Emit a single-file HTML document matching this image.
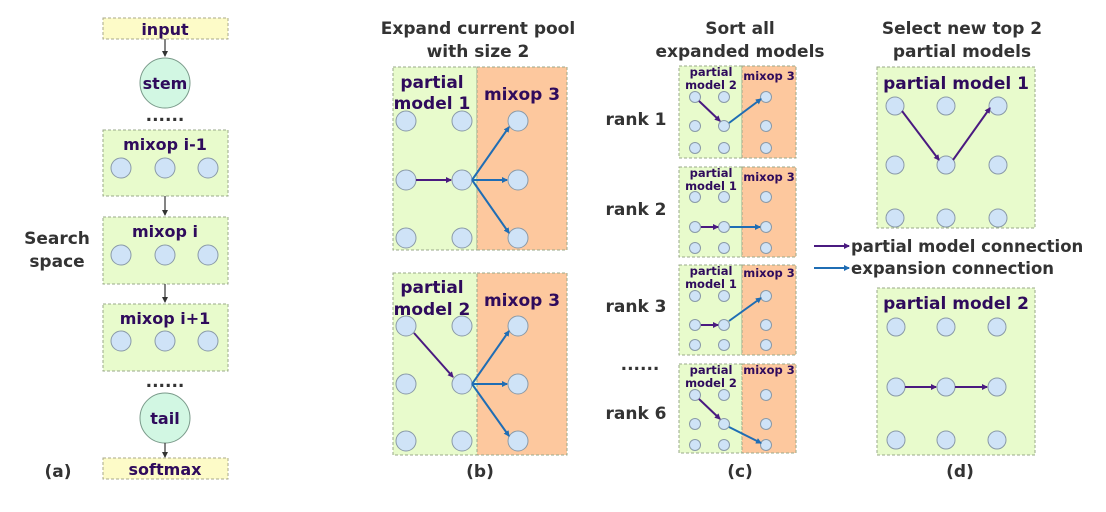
<!DOCTYPE html>
<html><head><meta charset="utf-8"><style>
html,body{margin:0;padding:0;background:#fff;}
svg{display:block;}
text{font-family:"DejaVu Sans","Liberation Sans",sans-serif;font-weight:bold;}
.t{fill:#333;font-size:17px;}
.p{fill:#2f0b5c;}
.g{fill:#e8fbcc;stroke:#9aa98a;stroke-dasharray:3,2;stroke-width:1;}
.o{fill:#fdc89e;stroke:#9aa98a;stroke-dasharray:3,2;stroke-width:1;}
.y{fill:#fdfbc8;stroke:#a9a98a;stroke-dasharray:3,2;stroke-width:1;}
.c{fill:#cfe3f7;stroke:#8a9aa8;stroke-width:1;}
.tc{fill:#d2f7e3;stroke:#7a9a8a;stroke-width:1;}
.pl{stroke:#4a1a80;stroke-width:2;fill:none;marker-end:url(#ap);}
.bl{stroke:#1f6db4;stroke-width:2;fill:none;marker-end:url(#ab);}
.k{stroke:#333;stroke-width:1.2;marker-end:url(#ak);}
</style></head><body>
<svg width="1106" height="512" viewBox="0 0 1106 512" xmlns="http://www.w3.org/2000/svg">
<defs>
<marker id="ap" markerWidth="6" markerHeight="6" refX="5" refY="3" orient="auto" markerUnits="userSpaceOnUse"><path d="M0,0L6,3L0,6z" fill="#4a1a80"/></marker>
<marker id="ab" markerWidth="6" markerHeight="6" refX="5" refY="3" orient="auto" markerUnits="userSpaceOnUse"><path d="M0,0L6,3L0,6z" fill="#1f6db4"/></marker>
<marker id="ak" markerWidth="6" markerHeight="6" refX="5" refY="3" orient="auto" markerUnits="userSpaceOnUse"><path d="M0,0L6,3L0,6z" fill="#333"/></marker>
</defs>

<!-- (a) -->
<rect class="y" x="103" y="18" width="125" height="21"/>
<text class="p" x="165" y="35" font-size="16" text-anchor="middle">input</text>
<line class="k" x1="165" y1="39" x2="165" y2="56"/>
<circle class="tc" cx="165" cy="83" r="25"/>
<text class="p" x="165" y="89" font-size="16" text-anchor="middle">stem</text>
<text class="t" x="165" y="121" font-size="12" text-anchor="middle">......</text>
<rect class="g" x="103" y="130" width="125" height="66"/>
<text class="p" x="165" y="150" font-size="16" text-anchor="middle">mixop i-1</text>
<circle class="c" cx="121" cy="168" r="10"/><circle class="c" cx="165" cy="168" r="10"/><circle class="c" cx="208" cy="168" r="10"/>
<line class="k" x1="165" y1="196" x2="165" y2="215"/>
<rect class="g" x="103" y="217" width="125" height="67"/>
<text class="p" x="165" y="237" font-size="16" text-anchor="middle">mixop i</text>
<circle class="c" cx="121" cy="255" r="10"/><circle class="c" cx="165" cy="255" r="10"/><circle class="c" cx="208" cy="255" r="10"/>
<line class="k" x1="165" y1="284" x2="165" y2="302"/>
<rect class="g" x="103" y="304" width="125" height="67"/>
<text class="p" x="165" y="324" font-size="16" text-anchor="middle">mixop i+1</text>
<circle class="c" cx="121" cy="341" r="10"/><circle class="c" cx="165" cy="341" r="10"/><circle class="c" cx="208" cy="341" r="10"/>
<text class="t" x="165" y="387" font-size="12" text-anchor="middle">......</text>
<circle class="tc" cx="165" cy="418" r="25"/>
<text class="p" x="165" y="424" font-size="16" text-anchor="middle">tail</text>
<line class="k" x1="165" y1="443" x2="165" y2="457"/>
<rect class="y" x="103" y="458" width="125" height="21"/>
<text class="p" x="165" y="475" font-size="16" text-anchor="middle">softmax</text>
<text class="t" x="58" y="477" text-anchor="middle">(a)</text>
<text class="t" x="57" y="244" text-anchor="middle">Search</text>
<text class="t" x="57" y="267" text-anchor="middle">space</text>

<!-- (b) -->
<text class="t" x="478" y="34" text-anchor="middle">Expand current pool</text>
<text class="t" x="478" y="57" text-anchor="middle">with size 2</text>
<rect class="g" x="393" y="67" width="84" height="183"/>
<rect class="o" x="477" y="67" width="90" height="183"/>
<text class="p" x="432" y="88" font-size="17" text-anchor="middle">partial</text>
<text class="p" x="432" y="109" font-size="17" text-anchor="middle">model 1</text>
<text class="p" x="522" y="100" font-size="17" text-anchor="middle">mixop 3</text>
<circle class="c" cx="406" cy="121" r="10"/><circle class="c" cx="462" cy="121" r="10"/><circle class="c" cx="518" cy="121" r="10"/>
<circle class="c" cx="406" cy="180" r="10"/><circle class="c" cx="462" cy="180" r="10"/><circle class="c" cx="518" cy="180" r="10"/>
<circle class="c" cx="406" cy="238" r="10"/><circle class="c" cx="462" cy="238" r="10"/><circle class="c" cx="518" cy="238" r="10"/>
<line class="pl" x1="416" y1="180" x2="451" y2="180"/>
<line class="bl" x1="472" y1="180" x2="509" y2="127"/>
<line class="bl" x1="472" y1="180" x2="507" y2="180"/>
<line class="bl" x1="472" y1="180" x2="509" y2="233"/>

<rect class="g" x="393" y="273" width="84" height="182"/>
<rect class="o" x="477" y="273" width="90" height="182"/>
<text class="p" x="432" y="293" font-size="17" text-anchor="middle">partial</text>
<text class="p" x="432" y="315" font-size="17" text-anchor="middle">model 2</text>
<text class="p" x="522" y="306" font-size="17" text-anchor="middle">mixop 3</text>
<circle class="c" cx="406" cy="326" r="10"/><circle class="c" cx="462" cy="326" r="10"/><circle class="c" cx="518" cy="326" r="10"/>
<circle class="c" cx="406" cy="384" r="10"/><circle class="c" cx="462" cy="384" r="10"/><circle class="c" cx="518" cy="384" r="10"/>
<circle class="c" cx="406" cy="441" r="10"/><circle class="c" cx="462" cy="441" r="10"/><circle class="c" cx="518" cy="441" r="10"/>
<line class="pl" x1="414" y1="333" x2="453" y2="377"/>
<line class="bl" x1="472" y1="384" x2="509" y2="331"/>
<line class="bl" x1="472" y1="384" x2="507" y2="384"/>
<line class="bl" x1="472" y1="384" x2="509" y2="436"/>
<text class="t" x="480" y="477" text-anchor="middle">(b)</text>

<!-- (c) -->
<text class="t" x="740" y="34" text-anchor="middle">Sort all</text>
<text class="t" x="740" y="57" text-anchor="middle">expanded models</text>

<g>
<rect class="g" x="679" y="66" width="63" height="92"/><rect class="o" x="742" y="66" width="54" height="92"/>
<text class="p" x="711" y="76" font-size="11.5" text-anchor="middle">partial</text>
<text class="p" x="711" y="89" font-size="11.5" text-anchor="middle">model 2</text>
<text class="p" x="769" y="80" font-size="11.5" text-anchor="middle">mixop 3</text>
<circle class="c" cx="695" cy="97" r="5.5"/><circle class="c" cx="724" cy="97" r="5.5"/><circle class="c" cx="766" cy="97" r="5.5"/>
<circle class="c" cx="695" cy="126" r="5.5"/><circle class="c" cx="724" cy="126" r="5.5"/><circle class="c" cx="766" cy="126" r="5.5"/>
<circle class="c" cx="695" cy="148" r="5.5"/><circle class="c" cx="724" cy="148" r="5.5"/><circle class="c" cx="766" cy="148" r="5.5"/>
<line class="pl" x1="699" y1="101" x2="720" y2="121"/>
<line class="bl" x1="729" y1="123" x2="761" y2="99"/>
</g>
<g>
<rect class="g" x="679" y="167" width="63" height="90"/><rect class="o" x="742" y="167" width="54" height="90"/>
<text class="p" x="711" y="177" font-size="11.5" text-anchor="middle">partial</text>
<text class="p" x="711" y="190" font-size="11.5" text-anchor="middle">model 1</text>
<text class="p" x="769" y="181" font-size="11.5" text-anchor="middle">mixop 3</text>
<circle class="c" cx="695" cy="197" r="5.5"/><circle class="c" cx="724" cy="197" r="5.5"/><circle class="c" cx="766" cy="197" r="5.5"/>
<circle class="c" cx="695" cy="227" r="5.5"/><circle class="c" cx="724" cy="227" r="5.5"/><circle class="c" cx="766" cy="227" r="5.5"/>
<circle class="c" cx="695" cy="248" r="5.5"/><circle class="c" cx="724" cy="248" r="5.5"/><circle class="c" cx="766" cy="248" r="5.5"/>
<line class="pl" x1="701" y1="227" x2="718" y2="227"/>
<line class="bl" x1="730" y1="227" x2="760" y2="227"/>
</g>
<g>
<rect class="g" x="679" y="265" width="63" height="90"/><rect class="o" x="742" y="265" width="54" height="90"/>
<text class="p" x="711" y="275" font-size="11.5" text-anchor="middle">partial</text>
<text class="p" x="711" y="288" font-size="11.5" text-anchor="middle">model 1</text>
<text class="p" x="769" y="277" font-size="11.5" text-anchor="middle">mixop 3</text>
<circle class="c" cx="695" cy="296" r="5.5"/><circle class="c" cx="724" cy="296" r="5.5"/><circle class="c" cx="766" cy="296" r="5.5"/>
<circle class="c" cx="695" cy="325" r="5.5"/><circle class="c" cx="724" cy="325" r="5.5"/><circle class="c" cx="766" cy="325" r="5.5"/>
<circle class="c" cx="695" cy="345" r="5.5"/><circle class="c" cx="724" cy="345" r="5.5"/><circle class="c" cx="766" cy="345" r="5.5"/>
<line class="pl" x1="701" y1="325" x2="718" y2="325"/>
<line class="bl" x1="729" y1="321" x2="761" y2="298"/>
</g>
<g>
<rect class="g" x="679" y="364" width="63" height="89"/><rect class="o" x="742" y="364" width="54" height="89"/>
<text class="p" x="711" y="374" font-size="11.5" text-anchor="middle">partial</text>
<text class="p" x="711" y="387" font-size="11.5" text-anchor="middle">model 2</text>
<text class="p" x="769" y="374" font-size="11.5" text-anchor="middle">mixop 3</text>
<circle class="c" cx="695" cy="395" r="5.5"/><circle class="c" cx="724" cy="395" r="5.5"/><circle class="c" cx="766" cy="395" r="5.5"/>
<circle class="c" cx="695" cy="424" r="5.5"/><circle class="c" cx="724" cy="424" r="5.5"/><circle class="c" cx="766" cy="424" r="5.5"/>
<circle class="c" cx="695" cy="445" r="5.5"/><circle class="c" cx="724" cy="445" r="5.5"/><circle class="c" cx="766" cy="445" r="5.5"/>
<line class="pl" x1="699" y1="399" x2="720" y2="419"/>
<line class="bl" x1="729" y1="427" x2="761" y2="443"/>
</g>
<text class="t" x="636" y="125" font-size="19" text-anchor="middle">rank 1</text>
<text class="t" x="636" y="215" font-size="19" text-anchor="middle">rank 2</text>
<text class="t" x="636" y="312" font-size="19" text-anchor="middle">rank 3</text>
<text class="t" x="640" y="370" font-size="13" text-anchor="middle">......</text>
<text class="t" x="636" y="419" font-size="19" text-anchor="middle">rank 6</text>
<text class="t" x="740" y="477" text-anchor="middle">(c)</text>

<!-- (d) -->
<text class="t" x="962" y="34" text-anchor="middle">Select new top 2</text>
<text class="t" x="962" y="57" text-anchor="middle">partial models</text>
<rect class="g" x="877" y="67" width="158" height="161"/>
<text class="p" x="956" y="89" font-size="17" text-anchor="middle">partial model 1</text>
<circle class="c" cx="895" cy="106" r="9"/><circle class="c" cx="946" cy="106" r="9"/><circle class="c" cx="998" cy="106" r="9"/>
<circle class="c" cx="895" cy="165" r="9"/><circle class="c" cx="946" cy="165" r="9"/><circle class="c" cx="998" cy="165" r="9"/>
<circle class="c" cx="895" cy="218" r="9"/><circle class="c" cx="946" cy="218" r="9"/><circle class="c" cx="998" cy="218" r="9"/>
<line class="pl" x1="902" y1="111" x2="939" y2="160"/>
<line class="pl" x1="953" y1="160" x2="990" y2="108"/>

<line class="pl" x1="814" y1="246" x2="849" y2="246"/>
<text x="851" y="252" font-size="16.5" style="fill:#333">partial model connection</text>
<line class="bl" x1="814" y1="268" x2="849" y2="268"/>
<text x="851" y="274" font-size="16.5" style="fill:#333">expansion connection</text>

<rect class="g" x="877" y="288" width="158" height="167"/>
<text class="p" x="956" y="309" font-size="17" text-anchor="middle">partial model 2</text>
<circle class="c" cx="896" cy="327" r="9"/><circle class="c" cx="946" cy="327" r="9"/><circle class="c" cx="997" cy="327" r="9"/>
<circle class="c" cx="896" cy="387" r="9"/><circle class="c" cx="946" cy="387" r="9"/><circle class="c" cx="997" cy="387" r="9"/>
<circle class="c" cx="896" cy="440" r="9"/><circle class="c" cx="946" cy="440" r="9"/><circle class="c" cx="997" cy="440" r="9"/>
<line class="pl" x1="905" y1="387" x2="936" y2="387"/>
<line class="pl" x1="955" y1="387" x2="987" y2="387"/>
<text class="t" x="960" y="477" text-anchor="middle">(d)</text>
</svg>
</body></html>
